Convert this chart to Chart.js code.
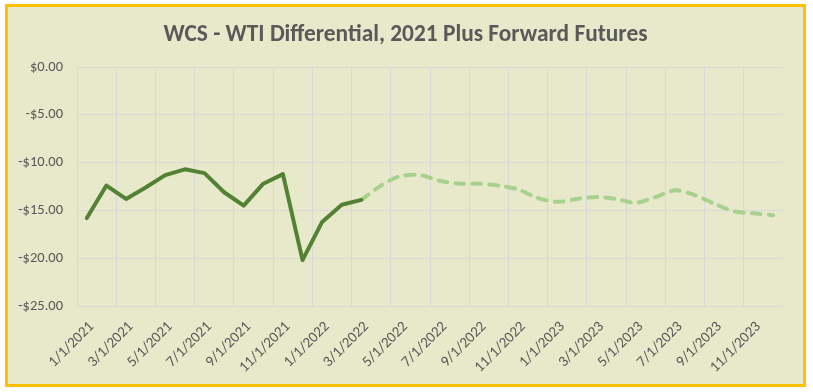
<!DOCTYPE html>
<html>
<head>
<meta charset="utf-8">
<script src="https://cdn.jsdelivr.net/npm/chart.js@4"></script>
<style>
  html, body { margin: 0; padding: 0; background: #ffffff; }
  #frame {
    position: absolute; left: 5px; top: 4px;
    width: 801px; height: 383px;
    box-sizing: border-box;
    border: 3px solid #ffc000;
    background: #e8e8cb;
  }
  #chart { display: block; }
</style>
</head>
<body>
<div id="frame"><canvas id="chart" width="795" height="377"></canvas></div>
<script>
// month categories, Jan 2021 .. Dec 2023
const months = [
  "1/1/2021","2/1/2021","3/1/2021","4/1/2021","5/1/2021","6/1/2021",
  "7/1/2021","8/1/2021","9/1/2021","10/1/2021","11/1/2021","12/1/2021",
  "1/1/2022","2/1/2022","3/1/2022","4/1/2022","5/1/2022","6/1/2022",
  "7/1/2022","8/1/2022","9/1/2022","10/1/2022","11/1/2022","12/1/2022",
  "1/1/2023","2/1/2023","3/1/2023","4/1/2023","5/1/2023","6/1/2023",
  "7/1/2023","8/1/2023","9/1/2023","10/1/2023","11/1/2023","12/1/2023"
];

// actual WCS - WTI differential ($/bbl)
const actual = [
  -15.8, -12.4, -13.8, -12.6, -11.3, -10.7, -11.1, -13.1, -14.5, -12.2, -11.2, -20.2,
  -16.2, -14.4, -13.9
];

// forward futures, starting Mar 2022
const futures = [
  -13.9, -12.4, -11.4, -11.3, -11.9, -12.2, -12.2, -12.4, -12.8, -13.7,
  -14.1, -13.8, -13.6, -13.8, -14.2, -13.6, -12.9, -13.4, -14.3, -15.1, -15.3, -15.5
];

const yTicks = [0, -5, -10, -15, -20, -25];

const futuresStart = months.length - futures.length;
const actualSeries = months.map((_, i) => i < actual.length ? actual[i] : null);
const futuresSeries = months.map((_, i) => i >= futuresStart ? futures[i - futuresStart] : null);

const FONT = "Carlito, Lato, 'Open Sans', sans-serif";
const TEXT = "#595959";
const GRID = "#d9d9d9";

new Chart(document.getElementById("chart"), {
  type: "line",
  data: {
    labels: months,
    datasets: [
      {
        label: "Actual",
        data: actualSeries,
        borderColor: "#548235",
        borderWidth: 4,
        borderJoinStyle: "round",
        borderCapStyle: "round",
        pointRadius: 0,
        tension: 0
      },
      {
        label: "Forward Futures",
        data: futuresSeries,
        borderColor: "#a9d18e",
        borderWidth: 4,
        borderDash: [9, 8],
        borderCapStyle: "round",
        borderJoinStyle: "round",
        pointRadius: 0,
        tension: 0.3
      }
    ]
  },
  options: {
    responsive: false,
    animation: false,
    layout: { padding: { top: 14, left: 0, right: 0, bottom: 0 } },
    plugins: {
      legend: { display: false },
      tooltip: { enabled: false },
      title: {
        display: true,
        text: "WCS - WTI Differential, 2021 Plus Forward Futures",
        color: TEXT,
        font: { family: FONT, size: 23.4, weight: "bold" },
        padding: { top: 0, bottom: 18 }
      }
    },
    scales: {
      x: {
        offset: true,
        grid: {
          offset: true,
          drawTicks: false,
          color: ctx => (ctx.index % 2 === 0 ? GRID : "rgba(0,0,0,0)"),
          lineWidth: 1
        },
        border: { display: false },
        ticks: {
          autoSkip: false,
          maxRotation: 45,
          minRotation: 45,
          padding: 12,
          labelOffset: 5,
          color: TEXT,
          font: { family: FONT, size: 15 },
          callback: function (v, i) { return i % 2 === 0 ? months[i] : ""; }
        },
        afterFit: scale => { scale.height = 78; }
      },
      y: {
        min: -25,
        max: 0,
        grid: { color: GRID, drawTicks: false },
        border: { display: false },
        afterBuildTicks: scale => { scale.ticks = yTicks.map(v => ({ value: v })); },
        ticks: {
          padding: 14,
          color: TEXT,
          font: { family: FONT, size: 14.5 },
          callback: v => (v < 0 ? "-$" : "$") + Math.abs(v).toFixed(2)
        },
        afterFit: scale => { scale.width = 69; }
      },
      // empty right-hand axis: only reserves the gap right of the plot
      spacer: {
        position: "right",
        display: true,
        grid: { display: false, drawTicks: false },
        border: { display: false },
        ticks: { display: false },
        afterFit: scale => { scale.width = 20; }
      }
    }
  }
});
</script>
</body>
</html>
